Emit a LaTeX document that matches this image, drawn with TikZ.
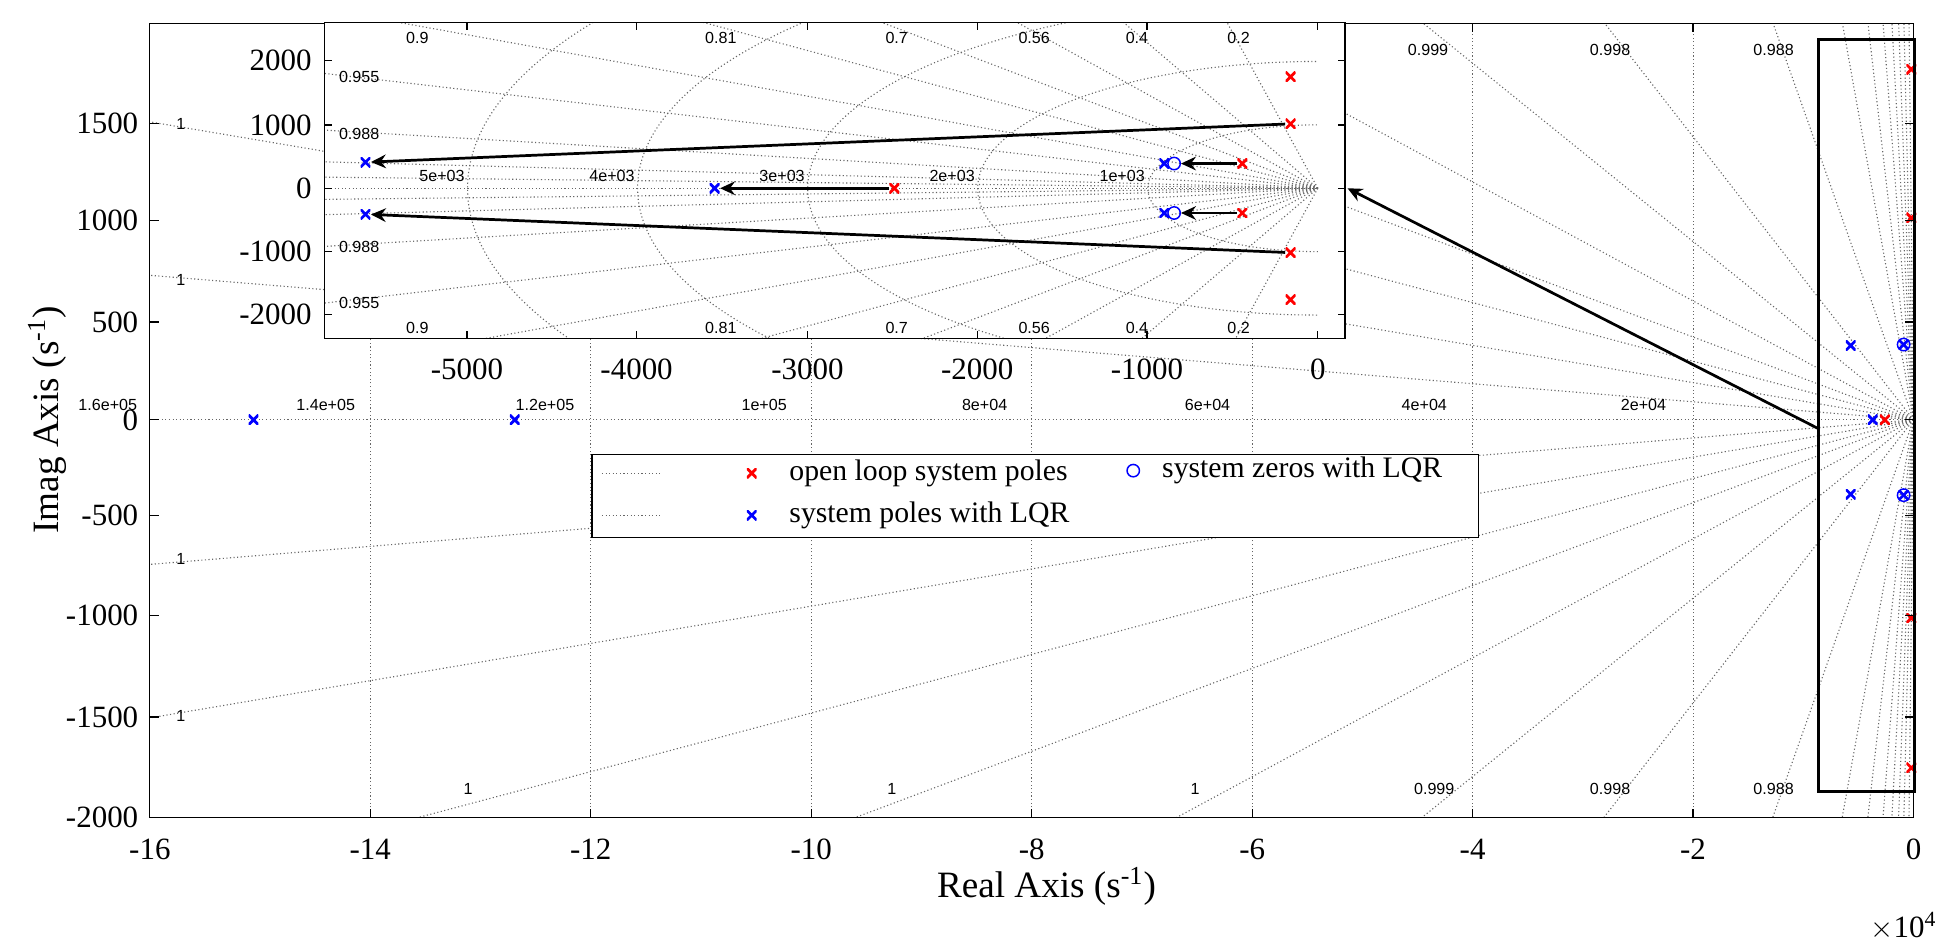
\documentclass[tikz,border=0pt]{standalone}
\usepackage{fontspec}
\setmainfont{Liberation Serif}
\newfontfamily\gridfont{Liberation Sans}
\usetikzlibrary{arrows.meta}
\begin{document}
\begin{tikzpicture}[x=0.5pt,y=-0.5pt,
  gridl/.style={densely dotted, black!60, line width=0.45pt},
  glab/.style={font=\gridfont\fontsize{6.5}{7}\selectfont, inner sep=1pt},
  tlab/.style={font=\fontsize{12.5}{14}\selectfont, inner sep=1pt},
  axlab/.style={font=\fontsize{15}{17}\selectfont},
  leglab/.style={font=\fontsize{12}{14}\selectfont, anchor=west, inner sep=0pt},
  xm/.style={inner sep=0pt, minimum size=4pt, path picture={\draw[line width=1.1pt,#1]
     (path picture bounding box.north west)--(path picture bounding box.south east)
     (path picture bounding box.north east)--(path picture bounding box.south west);}},
  zm/.style={circle, draw=blue, line width=0.6pt, inner sep=0pt, minimum size=5pt},
  arr/.style={line width=1.1pt, -{Stealth[length=6pt,width=5.5pt,inset=2pt]}},
  frame/.style={line width=0.5pt}]
\useasboundingbox (0,0) rectangle (1568,760);
% ================= main axes =================
\begin{scope}
\clip (121,19) rectangle (1545,660);
\begin{scope}[shift={(1545,339)}, xscale=89, yscale=-0.16]
  \foreach \u in {-2,-4,...,-14} \draw[gridl] (\u,-2100) -- (\u,2100);
  \draw[gridl] (-17,0) -- (0,0);
  \foreach \a/\b in {17/775,17/1598,16.9/2500,11.96/2500,8.33/2500,5.556/2500,3.5/2500,1.592/2500,0.806/2500,0.5165/2500,0.345/2500,0.245/2500,0.169/2500,0.109/2500,0.051/2500}
    {\draw[gridl] (0,0) -- (-\a,\b); \draw[gridl] (0,0) -- (-\a,-\b);}
\end{scope}
\end{scope}
\begin{scope}[shift={(1545,339)}, xscale=89, yscale=-0.16]
  \node[xm=blue] (mb1) at (-15.06,0) {};
  \node[xm=blue] (mb2) at (-12.69,0) {};
  \node[xm=blue] (mb3) at (-0.57,375) {};
  \node[xm=blue] (mb4) at (-0.57,-375) {};
  \node[xm=blue] (mb5) at (-0.37,0) {};
  \node[xm=red] (mr5) at (-0.26,0) {};
  \node[xm=red] (mr1) at (-0.02,1769) {};
  \node[xm=red] (mr2) at (-0.02,1019) {};
  \node[xm=red] (mr3) at (-0.02,-1000) {};
  \node[xm=red] (mr4) at (-0.02,-1756) {};
  \node[xm=blue] (mbz1) at (-0.09,380) {};
  \node[zm] (mz1) at (-0.09,380) {};
  \node[xm=blue] (mbz2) at (-0.09,-380) {};
  \node[zm] (mz2) at (-0.09,-380) {};
\end{scope}
% frame and ticks
\draw[frame] (121,19) rectangle (1545,660);
\foreach \y in {100,178,260,339,416,497,579,660,19} {\draw[frame] (121,\y) -- (128,\y); \draw[frame] (1545,\y) -- (1538,\y);}
\foreach \x in {121,299,477,655,833,1011,1189,1367,1545} {\draw[frame] (\x,660) -- (\x,653); \draw[frame] (\x,19) -- (\x,26);}
\foreach \y/\t in {100/1500,178/1000,260/500,339/0,416/-500,497/-1000,579/-1500,660/-2000}
  \node[tlab, anchor=east] at (114,\y) {\t};
\foreach \x/\t in {121/-16,299/-14,477/-12,655/-10,833/-8,1011/-6,1189/-4,1367/-2,1545/0}
  \node[tlab] at (\x,686) {\t};
\node[axlab] (xl) at (845,716) {Real Axis (s\textsuperscript{-1})};
\node[axlab, rotate=90] (yl) at (38,339) {Imag Axis (s\textsuperscript{-1})};
\node[tlab, anchor=east] (exp) at (1566,748) {$\times$10\textsuperscript{4}};
% main grid labels
\foreach \x/\t in {87/1.6e+05,263/1.4e+05,440/1.2e+05,617/1e+05,795/8e+04,975/6e+04,1150/4e+04,1327/2e+04}
  \node[glab] at (\x,327) {\t};
\foreach \y in {100,226,451,578} \node[glab] at (146,\y) {1};
\foreach \x/\t in {378/1,720/1,965/1,1158/0.999,1300/0.998,1432/0.988} \node[glab] at (\x,637) {\t};
\foreach \x/\t in {1153/0.999,1300/0.998,1432/0.988} \node[glab] at (\x,40) {\t};
% zoom rectangle
\draw[line width=1.3pt] (1468,32) rectangle (1546,639);
\coordinate (bigstart) at (1468,346);
\coordinate (bigend) at (1088,152);
% ================= inset =================
\fill[white] (262,18) rectangle (1086,273);
\begin{scope}
\clip (262,18) rectangle (1086,273);
\begin{scope}[shift={(1064,152)}, xscale=0.1373, yscale=-0.0512]
  \begin{scope}
  \clip (-6500,-3000) rectangle (0,3000);
  \foreach \r in {1000,2000,3000,4000,5000} \draw[gridl] (0,0) circle (\r);
  \end{scope}
  \draw[gridl] (-6500,0) -- (0,0);
  \foreach \a/\b in {6000/180,6000/428,6000/942,6000/1860,6000/2904,4144/3000,2941/3000,2028/3000,1310/3000,612/3000}
    {\draw[gridl] (0,0) -- (-\a,\b); \draw[gridl] (0,0) -- (-\a,-\b);}
  \foreach \r/\t in {1000/1e+03,2000/2e+03,3000/3e+03,4000/4e+03,5000/5e+03}
    \node[glab, anchor=south east] at (-\r,60) {\t};
  \node[xm=red] (ir1) at (-160,1758) {};
  \node[xm=red] (ir2) at (-160,1016) {};
  \node[xm=red] (ir3) at (-160,-1016) {};
  \node[xm=red] (ir4) at (-160,-1758) {};
  \node[xm=red] (ir5) at (-444,390) {};
  \node[xm=red] (ir6) at (-444,-390) {};
  \node[xm=red] (ir7) at (-2490,0) {};
  \node[xm=blue] (ib1) at (-5600,410) {};
  \node[xm=blue] (ib2) at (-5600,-410) {};
  \node[xm=blue] (ib3) at (-3547,0) {};
  \node[xm=blue] (ib4) at (-903,390) {};
  \node[xm=blue] (ib5) at (-903,-390) {};
  \node[zm] (iz1) at (-845,390) {};
  \node[zm] (iz2) at (-845,-390) {};
\end{scope}
\end{scope}
\draw[frame] (262,18) rectangle (1086,273);
\foreach \y in {49,101,152,203,254} {\draw[frame] (262,\y) -- (268,\y); \draw[frame] (1086,\y) -- (1080,\y);}
\foreach \x in {377,514,652,789,926,1064} {\draw[frame] (\x,273) -- (\x,267); \draw[frame] (\x,18) -- (\x,24);}
\foreach \y/\t in {49/2000,101/1000,152/0,203/-1000,254/-2000}
  \node[tlab, anchor=east] at (254,\y) {\t};
\foreach \x/\t in {377/-5000,514/-4000,652/-3000,789/-2000,926/-1000,1064/0}
  \node[tlab] at (\x,298) {\t};
\foreach \x/\t in {337/0.9,582/0.81,724/0.7,835/0.56,918/0.4,1000/0.2}
  {\node[glab] at (\x,31) {\t}; \node[glab] at (\x,265) {\t};}
\foreach \y/\t in {62/0.955,108/0.988,199/0.988,245/0.955} \node[glab] at (290,\y) {\t};
% arrows
\draw[arr] (ir2) -- (ib1);
\draw[arr] (ir3) -- (ib2);
\draw[arr] (ir7) -- (ib3);
\draw[arr] (ir5) -- (iz1);
\draw[arr] (ir6) -- (iz2);
\draw[arr] (bigstart) -- (bigend);
% ================= legend =================
\node[draw, fill=white, line width=0.5pt, minimum width=358pt, minimum height=33.5pt, inner sep=0pt] (leg) at (836,400.5) {};
\draw[gridl] (486,382) -- (533,382);
\draw[gridl] (486,416) -- (533,416);
\node[xm=red] (lr) at (607,382) {};
\node[leglab] (lt1) at (637,382) {open loop system poles};
\node[zm] (lz) at (915,380) {};
\node[leglab] (lt2) at (938,380) {system zeros with LQR};
\node[xm=blue] (lb) at (607,416) {};
\node[leglab] (lt3) at (637,416) {system poles with LQR};
\end{tikzpicture}
\end{document}
